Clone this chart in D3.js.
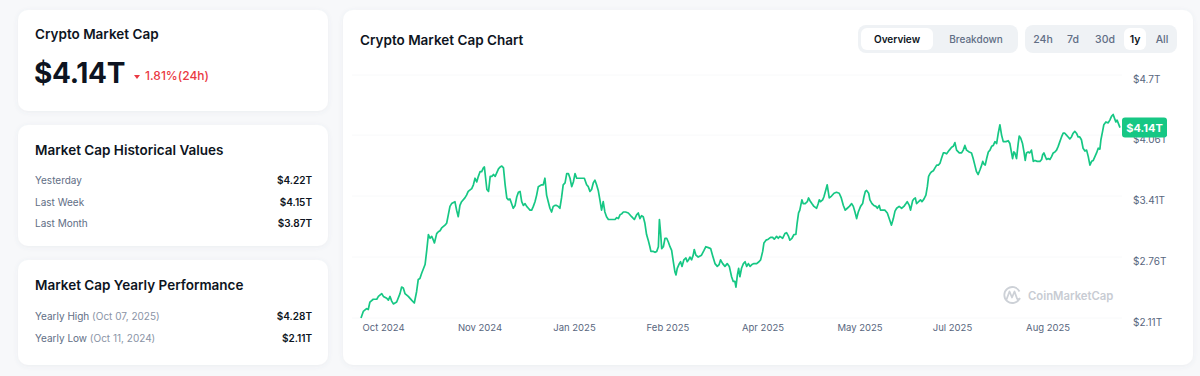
<!DOCTYPE html>
<html><head><meta charset="utf-8">
<script src="https://cdn.jsdelivr.net/npm/d3@7"></script>
<style>html,body{margin:0;padding:0;background:#f7f8fa;} svg{display:block;font-family:Inter,"Noto Sans",sans-serif;}</style>
</head><body><div id="chart"></div>
<script>
// ---------- DATA ----------
const startDate = new Date(2024, 9, 11); // Oct 11, 2024
const days = [0,1.1,2.7,3.5,4.3,5.9,7.6,8.4,10.0,10.8,12.4,13.2,14.0,14.8,15.6,17.2,18.8,19.6,20.4,21.2,22.8,24.4,25.7,26.8,27.6,28.4,29.3,30.9,31.7,32.5,33.3,34.1,34.9,35.4,36.5,37.3,38.1,38.9,40.5,41.3,42.1,42.9,43.7,45.3,46.1,46.9,47.7,48.5,50.1,50.9,51.7,53.4,54.2,55.0,55.8,56.6,57.4,58.2,59.0,59.5,60.7,61.5,62.3,63.1,63.9,64.7,65.5,66.3,67.1,67.9,68.7,69.5,70.3,71.0,71.8,72.6,73.4,74.3,75.1,75.9,76.7,77.5,78.3,79.1,79.9,80.7,81.5,82.3,83.1,83.9,84.7,85.5,87.1,87.9,88.7,89.5,90.3,91.1,91.9,92.7,93.5,94.3,95.1,95.9,96.7,97.5,98.4,99.2,100.0,100.8,101.6,102.4,103.2,104.0,104.8,106.4,107.7,108.8,109.6,110.4,111.2,112.0,112.8,113.6,114.4,115.2,116.0,116.8,117.6,118.4,119.3,120.9,122.5,123.3,124.1,124.9,125.7,126.5,127.6,128.9,130.5,131.8,132.9,133.7,134.5,135.3,136.1,136.9,137.7,138.5,139.3,139.8,141.0,141.8,
142.6,143.4,143.9,144.5,145.0,145.8,146.6,147.4,148.2,149.0,149.8,150.6,151.4,151.9,152.5,153.5,154.1,154.8,155.7,156.7,157.3,158.0,158.6,159.4,160.2,160.7,161.5,162.6,164.2,165.4,166.3,167.5,168.6,169.5,170.7,171.8,172.7,173.4,174.4,175.5,176.6,177.6,178.7,179.5,180.3,180.8,181.5,182.1,182.7,183.5,184.4,185.2,186.0,186.8,187.6,188.5,189.5,190.8,191.9,192.7,193.7,194.3,195.3,196.4,197.5,198.5,199.3,200.4,201.2,202.0,203.3,204.4,205.2,206.2,206.8,207.8,208.8,209.7,210.3,211.0,211.6,212.6,213.2,214.2,215.2,215.8,216.5,217.4,218.4,219.7,220.5,221.0,221.6,222.6,223.2,224.2,224.8,225.8,226.9,228.1,229.3,230.6,231.6,232.6,233.5,234.5,235.5,236.6,237.4,238.2,239.0,239.8,240.9,241.9,242.5,243.2,243.8,244.8,245.4,246.4,247.3,248.3,249.0,249.9,250.5,251.5,252.6,253.8,254.7,255.8,256.7,257.5,258.3,259.5,260.7,261.8,262.8,263.4,264.4,265.0,266.0,266.6,267.3,267.9,268.9,269.8,270.5,271.5,272.4,273.1,273.7,274.4,275.2,276.0,276.8,277.6,278.4,
279.2,279.9,280.8,281.6,282.4,283.7,284.8,285.6,286.4,287.2,288.5,289.6,290.4,291.2,292.0,293.3,294.4,295.2,296.0,296.8,297.6,298.5,299.3,299.8,300.4,301.0,301.7,302.5,303.3,304.1,304.9,305.7,306.5,307.3,308.1,308.9,309.7,311.0,312.1,312.9,313.7,314.2,314.8,315.3,316.1,316.9,317.4,318.1,319.0,319.7,320.3,320.9,321.7,322.5,323.3,324.2,325.0,326.1,327.4,328.2,328.7,329.3,330.0,330.6,331.4,332.2,333.0,333.8,334.6,335.4,336.2,337.0,337.8,338.6,339.4,340.2,341.0,341.8,342.6,343.4,344.2,345.0,345.8,346.6,347.4,348.2,349.1,349.9,350.7,351.5,352.3,353.1,353.9,354.7,355.5,356.3,356.8,357.6,358.2,359.2,360.3,361.1,361.9,362.7,363.5,364.0,364.6,366.0];
const caps = [2.11,2.18,2.21,2.20,2.28,2.31,2.31,2.34,2.37,2.34,2.32,2.30,2.34,2.29,2.26,2.28,2.37,2.44,2.43,2.37,2.34,2.30,2.27,2.39,2.52,2.53,2.59,2.68,2.83,3.00,2.96,2.98,2.94,2.91,3.01,3.03,3.04,3.07,3.10,3.12,3.21,3.30,3.33,3.35,3.26,3.19,3.31,3.35,3.39,3.42,3.46,3.49,3.53,3.60,3.56,3.62,3.67,3.67,3.71,3.72,3.48,3.46,3.62,3.62,3.64,3.62,3.66,3.70,3.72,3.73,3.71,3.53,3.39,3.37,3.38,3.33,3.28,3.31,3.40,3.45,3.46,3.35,3.31,3.33,3.30,3.28,3.26,3.26,3.30,3.35,3.42,3.51,3.53,3.53,3.60,3.42,3.35,3.28,3.24,3.30,3.31,3.31,3.30,3.28,3.39,3.53,3.55,3.65,3.65,3.60,3.51,3.56,3.65,3.60,3.60,3.60,3.60,3.53,3.51,3.46,3.48,3.55,3.58,3.53,3.47,3.37,3.26,3.35,3.24,3.19,3.16,3.16,3.16,3.18,3.17,3.21,3.22,3.24,3.24,3.23,3.19,3.16,3.21,3.23,3.17,3.20,3.19,3.12,3.00,2.94,2.87,2.82,2.82,2.81,
2.82,2.87,3.16,3.01,2.85,2.87,2.96,2.96,2.92,2.87,2.83,2.71,2.60,2.57,2.64,2.69,2.71,2.66,2.73,2.75,2.71,2.73,2.76,2.73,2.78,2.84,2.78,2.76,2.78,2.83,2.87,2.86,2.85,2.78,2.69,2.66,2.68,2.73,2.69,2.66,2.69,2.66,2.55,2.50,2.50,2.44,2.57,2.64,2.55,2.64,2.69,2.71,2.66,2.69,2.66,2.68,2.69,2.69,2.71,2.73,2.82,2.91,2.94,2.95,2.97,2.97,2.95,2.98,2.96,2.98,2.96,3.01,3.02,2.98,2.94,2.96,3.00,3.00,3.12,3.23,3.26,3.37,3.33,3.33,3.35,3.39,3.36,3.33,3.30,3.28,3.33,3.37,3.35,3.37,3.40,3.48,3.53,3.39,3.41,3.44,3.45,3.44,3.39,3.31,3.26,3.28,3.30,3.33,3.30,3.24,3.17,3.24,3.30,3.33,3.40,3.46,3.47,3.44,3.37,3.33,3.31,3.30,3.28,3.31,3.26,3.26,3.26,3.23,3.17,3.10,3.17,3.25,3.28,3.30,3.28,3.30,3.33,3.35,3.31,3.26,3.36,3.38,3.39,3.33,3.35,3.37,3.35,3.38,3.42,3.51,3.62,3.65,3.67,3.68,3.71,3.74,3.74,
3.76,3.81,3.87,3.87,3.86,3.90,3.93,3.94,3.98,3.90,3.87,3.87,3.90,3.95,3.90,3.88,3.87,3.81,3.74,3.67,3.64,3.69,3.74,3.78,3.75,3.74,3.81,3.88,3.90,3.94,3.95,3.99,3.97,4.08,4.17,4.06,3.99,3.99,4.00,3.97,3.87,3.81,3.88,3.87,3.81,3.97,4.05,4.03,3.97,3.88,3.79,3.87,3.88,3.87,3.90,3.78,3.79,3.78,3.78,3.80,3.85,3.87,3.83,3.80,3.81,3.80,3.83,3.87,3.88,3.90,3.94,3.99,4.04,4.08,4.08,4.06,4.04,4.02,4.04,4.08,4.10,4.08,4.04,4.04,4.01,3.92,3.89,3.90,3.83,3.74,3.78,3.79,3.83,3.87,3.92,3.91,4.01,4.10,4.17,4.20,4.19,4.22,4.26,4.28,4.23,4.20,4.22,4.14];

const yTicks = [2.11, 2.76, 3.41, 4.06, 4.7];
const yTickLabels = ["$2.11T", "$2.76T", "$3.41T", "$4.06T", "$4.7T"];
const xTickDays = [0, 46, 92, 137, 183, 229, 275, 320];
const currentCap = "$4.14T";
const change24h = "1.81%(24h)";
const historyLabels = ["Yesterday", "Last Week", "Last Month"];
const historyValues = ["$4.22T", "$4.15T", "$3.87T"];
const yearlyLabels = ["Yearly High", "Yearly Low"];
const yearlyDates = ["(Oct 07, 2025)", "(Oct 11, 2024)"];
const yearlyValues = ["$4.28T", "$2.11T"];
const viewButtons = ["Overview", "Breakdown"];
const rangeButtons = ["24h", "7d", "30d", "1y", "All"];

// ---------- DRAW ----------
const W = 1200, H = 376;
const svg = d3.select("#chart").append("svg").attr("width", W).attr("height", H);
svg.append("rect").attr("width", W).attr("height", H).attr("fill", "#f7f8fa");

const defs = svg.append("defs");
const f = defs.append("filter").attr("id", "sh").attr("x", "-5%").attr("y", "-5%").attr("width", "110%").attr("height", "115%");
f.append("feDropShadow").attr("dx", 0).attr("dy", 1).attr("stdDeviation", 2.5).attr("flood-color", "#58667e").attr("flood-opacity", 0.08);

const cards = [[18,10,310,101],[18,125,310,121],[18,260,310,105],[343,10,850,355]];
svg.selectAll("rect.card").data(cards).join("rect").attr("class","card")
  .attr("x", d=>d[0]).attr("y", d=>d[1]).attr("width", d=>d[2]).attr("height", d=>d[3])
  .attr("rx", 10).attr("fill", "#fff").attr("filter", "url(#sh)");

const dark = "#0d1421", gray = "#616e85", red = "#ea3943", green = "#16c784";

// Card 1
svg.append("text").attr("x", 35).attr("y", 39).attr("font-size", 13.5).attr("font-weight", 600).attr("fill", dark).text("Crypto Market Cap");
svg.append("text").attr("x", 34).attr("y", 83).attr("font-size", 28).attr("font-weight", 700).attr("fill", dark).attr("letter-spacing", -0.3).text(currentCap);
svg.append("path").attr("d", "M134,75 L140,75 L137,79 Z").attr("fill", red);
svg.append("text").attr("x", 145).attr("y", 80).attr("font-size", 12).attr("font-weight", 500).attr("fill", red).text(change24h);

// Card 2
svg.append("text").attr("x", 35).attr("y", 155).attr("font-size", 13.5).attr("font-weight", 600).attr("fill", dark).text("Market Cap Historical Values");
historyLabels.forEach((l, i) => {
  const y = 184 + i * 21.5;
  svg.append("text").attr("x", 35).attr("y", y).attr("font-size", 10).attr("fill", gray).text(l);
  svg.append("text").attr("x", 312).attr("y", y).attr("text-anchor", "end").attr("font-size", 10).attr("font-weight", 600).attr("fill", dark).text(historyValues[i]);
});

// Card 3
svg.append("text").attr("x", 35).attr("y", 290).attr("font-size", 13.5).attr("font-weight", 600).attr("fill", dark).text("Market Cap Yearly Performance");
yearlyLabels.forEach((l, i) => {
  const y = 320 + i * 22;
  const t = svg.append("text").attr("x", 35).attr("y", y).attr("font-size", 10).attr("fill", gray);
  t.append("tspan").text(l + " ");
  t.append("tspan").attr("fill", "#8a94a6").text(yearlyDates[i]);
  svg.append("text").attr("x", 312).attr("y", y).attr("text-anchor", "end").attr("font-size", 10).attr("font-weight", 600).attr("fill", dark).text(yearlyValues[i]);
});

// Chart card header
svg.append("text").attr("x", 360).attr("y", 45).attr("font-size", 13.5).attr("font-weight", 600).attr("fill", dark).text("Crypto Market Cap Chart");

// Buttons
svg.append("rect").attr("x", 858).attr("y", 25).attr("width", 160).attr("height", 28).attr("rx", 8).attr("fill", "#eff2f5");
svg.append("rect").attr("x", 861).attr("y", 28).attr("width", 72).attr("height", 22).attr("rx", 6).attr("fill", "#fff");
const vbX = [897, 976];
viewButtons.forEach((b, i) => {
  svg.append("text").attr("x", vbX[i]).attr("y", 43).attr("text-anchor", "middle").attr("font-size", 10)
    .attr("font-weight", i === 0 ? 600 : 500).attr("fill", i === 0 ? dark : gray).text(b);
});
svg.append("rect").attr("x", 1025).attr("y", 25).attr("width", 152).attr("height", 28).attr("rx", 8).attr("fill", "#eff2f5");
svg.append("rect").attr("x", 1124).attr("y", 28).attr("width", 22).attr("height", 22).attr("rx", 6).attr("fill", "#fff");
const rbX = [1043, 1073, 1105, 1135, 1162];
rangeButtons.forEach((b, i) => {
  svg.append("text").attr("x", rbX[i]).attr("y", 43).attr("text-anchor", "middle").attr("font-size", 10.5)
    .attr("font-weight", b === "1y" ? 600 : 500).attr("fill", b === "1y" ? dark : gray).text(b);
});

// Scales
const endDate = d3.timeDay.offset(startDate, 366);
const x = d3.scaleTime().domain([startDate, endDate]).range([361, 1120]);
const y = d3.scaleLinear().domain([2.11, 4.7]).range([318, 75.06]);
const toDate = d => new Date(startDate.getTime() + d * 864e5);
const data = days.map((d, i) => ({ date: toDate(d), v: caps[i] }));

// Gridlines (very faint)
svg.append("g").selectAll("line").data(yTicks).join("line")
  .attr("x1", 352).attr("x2", 1122).attr("y1", d => y(d)).attr("y2", d => y(d))
  .attr("stroke", "#f8f9fa").attr("stroke-width", 1);

// Y axis (right)
const yAxis = d3.axisRight(y).tickValues(yTicks).tickFormat((d, i) => yTickLabels[i]).tickSize(0).tickPadding(0);
const gy = svg.append("g").attr("transform", "translate(1133,4)").call(yAxis);
gy.select(".domain").remove();
gy.selectAll("text").attr("font-size", 10).attr("fill", "#58667e").attr("font-family", "Inter, sans-serif");

// X axis
const xAxis = d3.axisBottom(x).tickValues(xTickDays.map(d => d3.timeDay.offset(startDate, d))).tickFormat(d3.timeFormat("%b %Y")).tickSize(0).tickPadding(0);
const gx = svg.append("g").attr("transform", "translate(1,324)").call(xAxis);
gx.select(".domain").remove();
gx.selectAll("text").attr("font-size", 9.5).attr("fill", "#58667e").attr("text-anchor", "start").attr("font-family", "Inter, sans-serif");

// Watermark
const wm = svg.append("g");
wm.append("path").attr("d", "M1019.5,298.5 A8,8 0 1 1 1019.5,291.5").attr("fill", "none").attr("stroke", "#cdd1d7").attr("stroke-width", 1.8);
wm.append("path").attr("d", "M1006.5,299.5 L1009.5,291.5 L1012,297.5 L1014.5,291.5 L1017,298.5 Q1018.5,301 1020,298").attr("fill", "none").attr("stroke", "#cdd1d7").attr("stroke-width", 1.8).attr("stroke-linejoin", "round");
wm.append("text").attr("x", 1028).attr("y", 300).attr("font-size", 11.3).attr("font-weight", 600).attr("fill", "#c8ccd3").text("CoinMarketCap");

// Line
const line = d3.line().x(d => x(d.date)).y(d => y(d.v)).curve(d3.curveLinear);
svg.append("path").datum(data).attr("d", line).attr("fill", "none").attr("stroke", green)
  .attr("stroke-width", 1.7).attr("stroke-linejoin", "round");

// Current value badge
const last = data[data.length - 1];
const by = y(last.v);
svg.append("rect").attr("x", 1122).attr("y", by - 10).attr("width", 45).attr("height", 20).attr("rx", 3).attr("fill", green);
svg.append("text").attr("x", 1144.5).attr("y", by + 4).attr("text-anchor", "middle").attr("font-size", 11).attr("font-weight", 700).attr("fill", "#fff").text(currentCap);
</script></body></html>
